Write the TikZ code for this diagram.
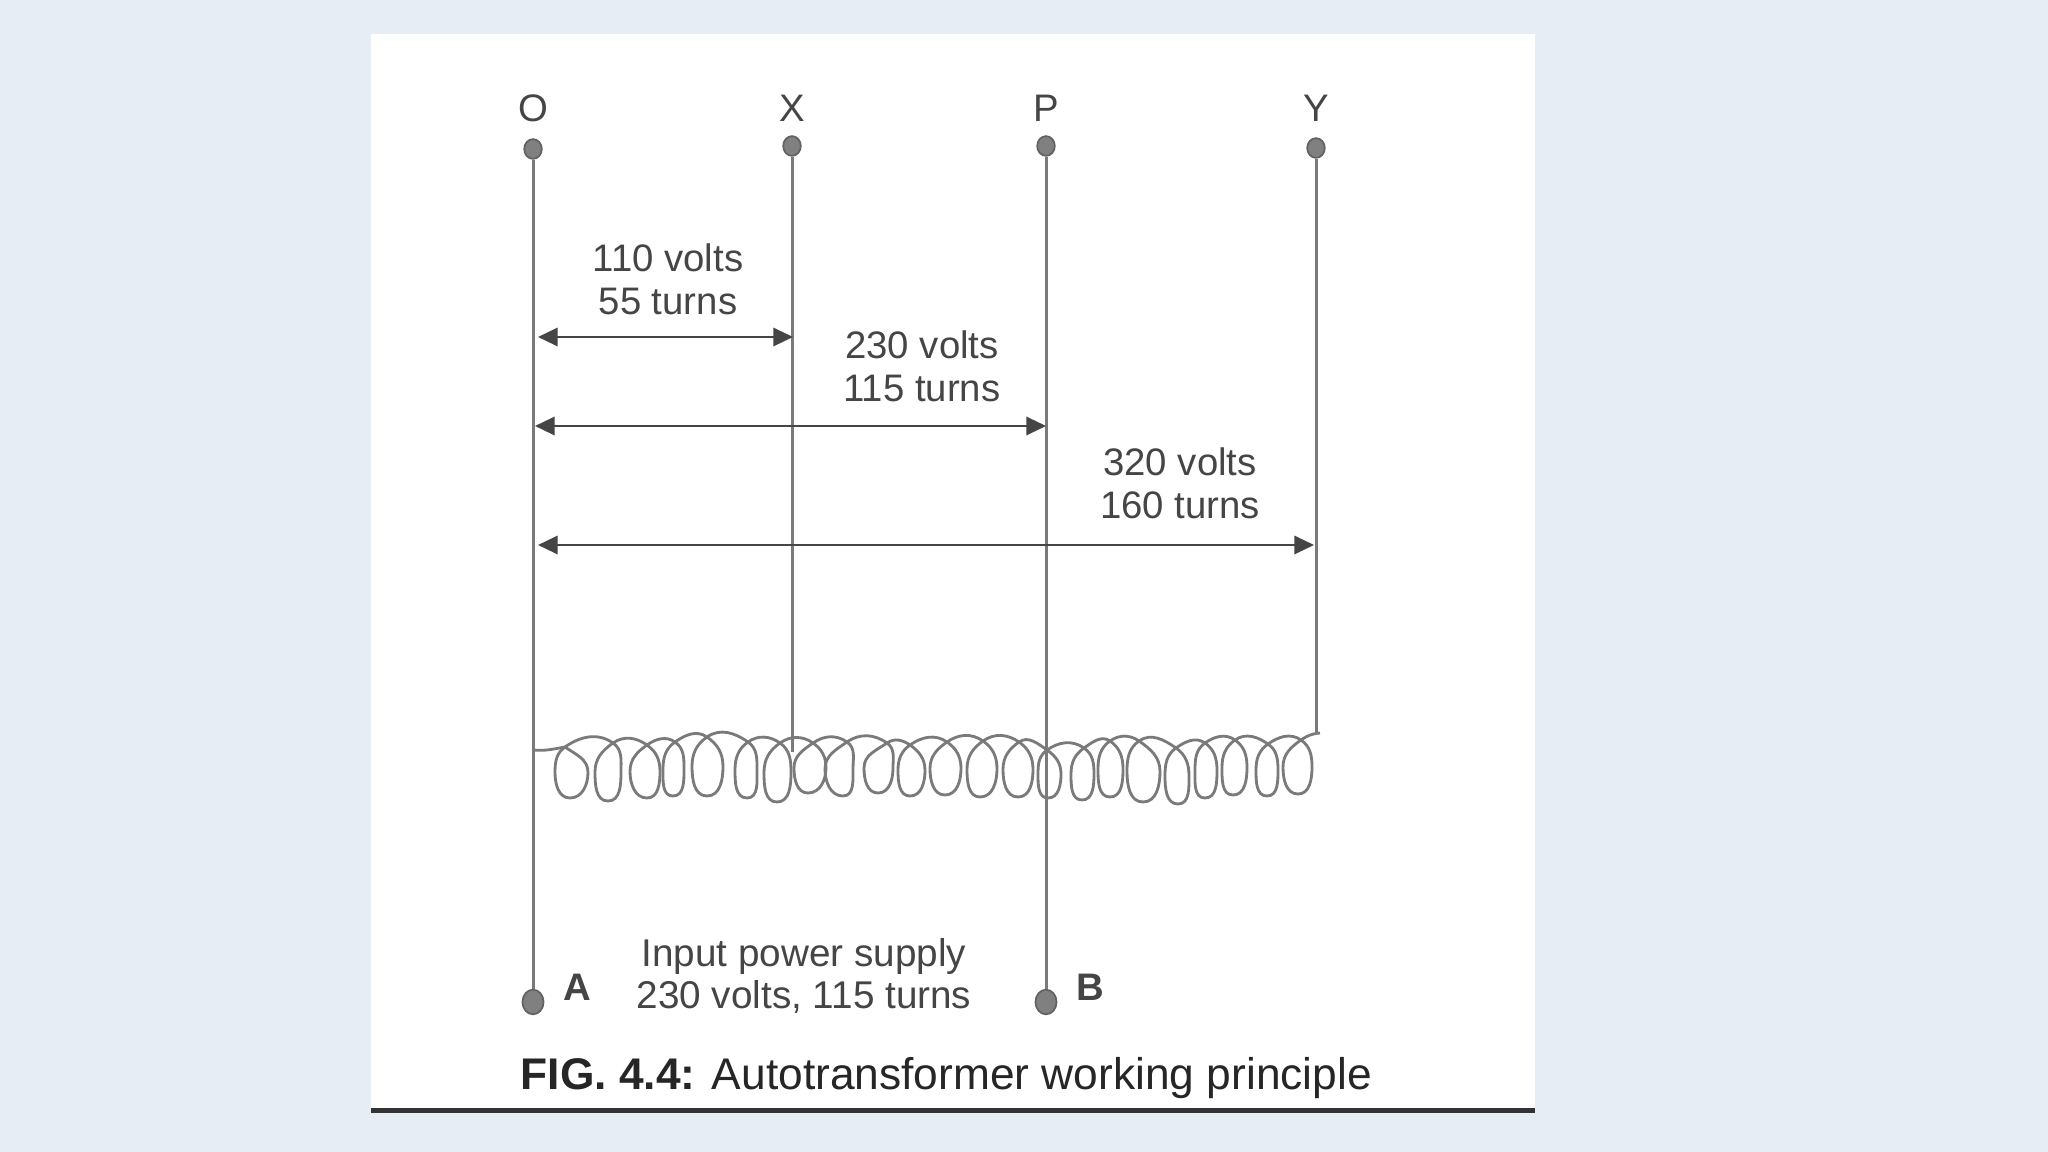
\documentclass[tikz,border=0pt]{standalone}
\usepackage{fontspec}
\setmainfont{Liberation Sans}
\usetikzlibrary{arrows.meta}
\usetikzlibrary{shapes.geometric}
\definecolor{pagebg}{HTML}{E6EDF5}
\definecolor{wire}{HTML}{7A7A7A}
\definecolor{ink}{HTML}{454545}
\tikzstyle{terminal}=[ellipse,draw=wire!80!black,fill=black!50,line width=.5pt,minimum width=5pt,minimum height=5.6pt,inner sep=0pt]
\tikzstyle{bigterminal}=[terminal,minimum width=6pt,minimum height=7pt]
\tikzstyle{lead}=[wire,line width=.85pt]
\tikzstyle{span}=[{Triangle[length=5.6pt,width=5.2pt]}-{Triangle[length=5.6pt,width=5.2pt]},ink,line width=.7pt]
\tikzstyle{coil}=[wire,line width=.8pt]
\tikzstyle{label}=[text=ink,font=\fontsize{10.9}{12.3}\selectfont,align=center,inner sep=0pt]

\begin{document}
\begin{tikzpicture}[x=.01cm,y=-.01cm]
  \useasboundingbox (0,0) rectangle (2048,1152);
  \fill[pagebg] (0,0) rectangle (2048,1152);
  \fill[white] (371,34) rectangle (1535,1110);
  \fill[black!80] (371,1108) rectangle (1535,1113);
  % terminals and their letters
  \foreach \name/\x/\y in {O/533/149, X/792/146, P/1046/146, Y/1316/148}
    {
      \node[terminal] (\name) at (\x,\y) {};
      \node[label] (label-\name) at (\x,108) {\name};
    }
  \node[bigterminal] (A) at (533,1002) {};
  \node[bigterminal] (B) at (1046,1002) {};
  \node[label,font=\fontsize{10.9}{12.3}\selectfont\bfseries] (label-A) at (577,987) {A};
  \node[label,font=\fontsize{10.9}{12.3}\selectfont\bfseries] (label-B) at (1090,987) {B};
  % free ends on the coil
  \coordinate (X-end) at (792,752);
  \coordinate (Y-end) at (1316,733);
  \foreach \from/\to in {O/A,X/X-end,P/B,Y/Y-end}
    \draw[lead] (\from) -- (\to);
  % the winding
  \coordinate (coil-start) at (533,750);
  \coordinate (coil-end) at (1320,733);
  \draw[coil] (coil-start) to[out=-5,in=190] (565,747);
  \foreach \cx/\cy/\r/\b/\bx/\l/\nx/\ny in {
      565/747/588/798/570/555/613/743, 613/743/621/801/608/595/647/745,
      647/745/660/798/647/630/675/742, 675/742/684/796/673/663/707/737,
      707/737/723/796/707/692/748/742, 748/742/757/798/747/735/780/743,
      780/743/791/802/777/764/813/743, 813/743/826/793/808/794/847/742,
      847/742/853/796/843/825/887/743, 887/743/893/793/878/864/910/745,
      910/745/925/796/910/898/947/742, 947/742/961/795/945/930/983/741,
      983/741/997/797/980/967/1019/742, 1019/742/1033/797/1018/1003/1047/750,
      1047/750/1061/798/1048/1038/1084/748, 1084/748/1094/800/1082/1071/1110/741,
      1110/741/1123/797/1110/1098/1139/741, 1139/741/1160/802/1143/1127/1176/748,
      1176/748/1189/804/1178/1165/1205/743, 1205/743/1217/798/1205/1195/1235/740,
      1235/740/1247/795/1233/1222/1268/744, 1268/744/1278/796/1267/1256/1301/740}
    \draw[coil] (\cx,\cy) to[out=-35,in=90] (\r,{(\cy+\b)/2}) to[out=-90,in=0] (\bx,\b)
      to[out=180,in=-90] (\l,{(\cy+\b)/2}) to[out=90,in=215] (\cx,\cy)
      to[out=35,in=145] (\nx,\ny);
  \draw[coil] (1301,740) to[out=-35,in=90] (1312,767) to[out=-90,in=0] (1298,794)
    to[out=180,in=-90] (1283,767) to[out=90,in=215] (1301,740) to[out=35,in=185] (coil-end);
  % the three spans
  \coordinate (s1-l) at (538,337);
  \coordinate (s1-r) at (793,337);
  \coordinate (s2-l) at (535,426);
  \coordinate (s2-r) at (1046,426);
  \coordinate (s3-l) at (538,545);
  \coordinate (s3-r) at (1314,545);
  \foreach \n in {1,2,3}
    \draw[span] (s\n-l) -- (s\n-r);
  \node[label] (text-1) at (668,279) {110 volts\\55 turns};
  \node[label] (text-2) at (922,366) {230 volts\\115 turns};
  \node[label] (text-3) at (1180,483) {320 volts\\160 turns};
  \node[label,font=\fontsize{11}{11.9}\selectfont] (text-in) at (804,976) {Input power supply\\230 volts, 115 turns};
  \node[anchor=west,inner sep=0pt,text=black!85,font=\fontsize{12.6}{14}\selectfont] (caption) at (520,1078)
    {\textbf{FIG. 4.4:} Autotransformer working principle};
\end{tikzpicture}
\end{document}
